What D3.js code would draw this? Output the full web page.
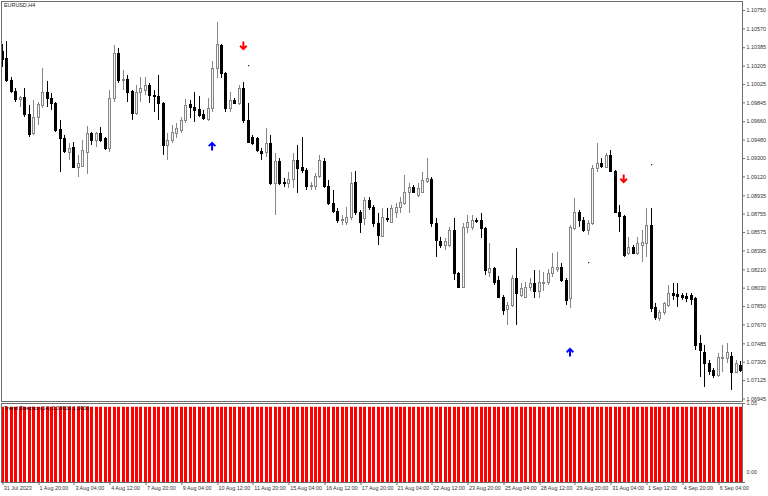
<!DOCTYPE html>
<html><head><meta charset="utf-8">
<script src="https://cdn.jsdelivr.net/npm/d3@7"></script>
<style>
html,body{margin:0;padding:0;background:#fff;}
svg{display:block;}
text{font-family:"Liberation Sans",Arial,sans-serif;}
</style></head><body>
<svg id="c" width="768" height="496"></svg>
<script>
const symbolTitle = "EURUSD,H4";
const indicatorTitle = "Trend Direction(14) 0.00000 1.0000";

const open = [
1.10348,1.10280,1.10064,1.09957,1.09878,1.09898,1.09731,1.09545,1.09702,1.09820,
1.09947,1.09888,1.09839,1.09584,1.09496,1.09359,1.09408,1.09212,1.09222,1.09359,
1.09545,1.09477,1.09545,1.09496,1.09398,1.09888,1.10329,1.10064,1.10074,1.09957,
1.09741,1.09947,1.09966,1.10015,1.09917,1.09908,1.09839,1.09428,1.09477,1.09545,
1.09575,1.09673,1.09829,1.09800,1.09780,1.09731,1.09682,1.09790,1.10182,1.10407,
1.10133,1.09790,1.09869,1.09839,1.09986,1.09673,1.09506,1.09496,1.09369,1.09359,
1.09447,1.09056,1.09271,1.09065,1.09056,1.09095,1.09281,1.09212,1.09183,1.09026,
1.09026,1.09124,1.09271,1.09026,1.08860,1.08781,1.08693,1.08674,1.08722,1.09065,
1.08771,1.08713,1.08889,1.08820,1.08664,1.08536,1.08713,1.08674,1.08771,1.08820,
1.08860,1.08967,1.09016,1.08938,1.08967,1.09075,1.09095,1.08664,1.08487,1.08448,
1.08448,1.08595,1.08174,1.08037,1.08625,1.08625,1.08693,1.08693,1.08615,1.08184,
1.08223,1.08105,1.07939,1.07821,1.07861,1.08125,1.07958,1.07939,1.08037,1.08076,
1.07997,1.08076,1.08086,1.08174,1.08213,1.08233,1.08105,1.07929,1.08615,1.08771,
1.08693,1.08595,1.08664,1.09202,1.09251,1.09212,1.09330,1.09173,1.08771,1.08732,
1.08370,1.08429,1.08370,1.08448,1.08468,1.08644,1.07841,1.07733,1.07792,1.07861,
1.07978,1.07968,1.07958,1.07949,1.07958,1.07929,1.07488,1.07399,1.07292,1.07224,
1.07175,1.07341,1.07341,1.07361,1.07204,1.07273];

const high = [
1.10417,1.10446,1.10094,1.09986,1.09908,1.09986,1.09820,1.09869,1.09849,1.10182,
1.10055,1.09937,1.09849,1.09673,1.09526,1.09447,1.09457,1.09330,1.09477,1.09614,
1.09555,1.09555,1.09604,1.09506,1.09966,1.10407,1.10378,1.10162,1.10113,1.09966,
1.10015,1.10094,1.10094,1.10035,1.09966,1.10113,1.09849,1.09545,1.09624,1.09643,
1.09702,1.09878,1.09869,1.09947,1.09908,1.09771,1.09888,1.10251,1.10633,1.10417,
1.10143,1.09947,1.09888,1.10015,1.10045,1.09839,1.09526,1.09506,1.09398,1.09594,
1.09526,1.09349,1.09300,1.09104,1.09163,1.09349,1.09428,1.09506,1.09202,1.09065,
1.09153,1.09330,1.09300,1.09085,1.08987,1.08811,1.08742,1.08820,1.09163,1.09173,
1.08791,1.08918,1.08918,1.08840,1.08762,1.08811,1.08811,1.08840,1.08860,1.08918,
1.09134,1.09056,1.09036,1.09056,1.09163,1.09300,1.09114,1.08713,1.08527,1.08517,
1.08625,1.08713,1.08184,1.08664,1.08742,1.08742,1.08713,1.08762,1.08625,1.08468,
1.08233,1.08145,1.07958,1.07890,1.08154,1.08419,1.08076,1.08086,1.08125,1.08203,
1.08203,1.08184,1.08213,1.08370,1.08380,1.08272,1.08125,1.08644,1.08909,1.08791,
1.08722,1.08693,1.09232,1.09447,1.09300,1.09349,1.09379,1.09183,1.08840,1.08742,
1.08527,1.08448,1.08527,1.08595,1.08811,1.08811,1.07880,1.07812,1.07890,1.08056,
1.08076,1.08076,1.07978,1.07978,1.07978,1.07939,1.07567,1.07469,1.07322,1.07243,
1.07390,1.07469,1.07488,1.07400,1.07322,1.07312];

const low = [
1.10192,1.10045,1.09937,1.09849,1.09800,1.09702,1.09506,1.09526,1.09624,1.09790,
1.09800,1.09771,1.09555,1.09163,1.09349,1.09281,1.09202,1.09114,1.09212,1.09144,
1.09428,1.09408,1.09457,1.09379,1.09359,1.09849,1.10035,1.09966,1.09849,1.09673,
1.09722,1.09849,1.09917,1.09839,1.09751,1.09673,1.09330,1.09281,1.09447,1.09496,
1.09545,1.09643,1.09692,1.09653,1.09702,1.09673,1.09663,1.09751,1.10084,1.10084,
1.09751,1.09751,1.09829,1.09820,1.09643,1.09447,1.09428,1.09359,1.09281,1.09310,
1.09036,1.08742,1.09036,1.09016,1.09007,1.09007,1.08958,1.09153,1.08987,1.08987,
1.08987,1.09104,1.09007,1.08840,1.08762,1.08664,1.08644,1.08644,1.08693,1.08742,
1.08566,1.08644,1.08791,1.08625,1.08448,1.08527,1.08674,1.08664,1.08713,1.08762,
1.08840,1.08762,1.08958,1.08918,1.08958,1.09056,1.08625,1.08331,1.08419,1.08399,
1.08429,1.08105,1.08027,1.08027,1.08566,1.08595,1.08664,1.08517,1.08154,1.08135,
1.08056,1.07929,1.07763,1.07665,1.07841,1.07665,1.07939,1.07929,1.07997,1.07928,
1.07928,1.07997,1.08056,1.08135,1.08184,1.08086,1.07861,1.07831,1.08595,1.08625,
1.08576,1.08546,1.08644,1.09163,1.09202,1.09202,1.09163,1.08762,1.08576,1.08331,
1.08350,1.08360,1.08350,1.08282,1.08331,1.07792,1.07714,1.07704,1.07763,1.07841,
1.07910,1.07841,1.07910,1.07890,1.07861,1.07420,1.07155,1.07057,1.07175,1.07145,
1.07155,1.07204,1.07292,1.07028,1.07194,1.07204];

const close = [
1.10270,1.10064,1.09957,1.09878,1.09898,1.09731,1.09535,1.09702,1.09829,1.09947,
1.09888,1.09839,1.09575,1.09496,1.09369,1.09398,1.09212,1.09251,1.09379,1.09545,
1.09477,1.09545,1.09477,1.09398,1.09888,1.10329,1.10064,1.10074,1.09947,1.09741,
1.09947,1.09986,1.10015,1.09917,1.09908,1.09839,1.09428,1.09477,1.09555,1.09594,
1.09673,1.09820,1.09800,1.09771,1.09722,1.09692,1.09790,1.10182,1.10417,1.10133,
1.09790,1.09869,1.09839,1.09986,1.09673,1.09457,1.09447,1.09379,1.09349,1.09447,
1.09056,1.09271,1.09056,1.09056,1.09095,1.09281,1.09202,1.09183,1.09026,1.09036,
1.09124,1.09281,1.09026,1.08860,1.08781,1.08693,1.08703,1.08722,1.09056,1.08771,
1.08674,1.08889,1.08820,1.08664,1.08546,1.08722,1.08703,1.08811,1.08820,1.08869,
1.08967,1.09016,1.08967,1.09007,1.09085,1.09104,1.08664,1.08497,1.08448,1.08487,
1.08595,1.08174,1.08037,1.08625,1.08674,1.08693,1.08683,1.08615,1.08203,1.08223,
1.08086,1.07939,1.07812,1.07861,1.08125,1.07978,1.08027,1.08037,1.08076,1.07997,
1.08086,1.08086,1.08174,1.08233,1.08233,1.08105,1.07910,1.08625,1.08771,1.08693,
1.08595,1.08664,1.09202,1.09251,1.09222,1.09330,1.09173,1.08771,1.08732,1.08350,
1.08429,1.08370,1.08468,1.08478,1.08644,1.07831,1.07743,1.07792,1.07880,1.07978,
1.07958,1.07949,1.07939,1.07929,1.07919,1.07469,1.07420,1.07292,1.07214,1.07175,
1.07351,1.07351,1.07400,1.07204,1.07292,1.07224];

const trendValues = [
1,1,1,1,1,1,1,1,1,1, 1,1,1,1,1,1,1,1,1,1, 1,1,1,1,1,1,1,1,1,1, 1,1,1,1,1,1,1,1,1,1,
1,1,1,1,1,1,1,1,1,1, 1,1,1,1,1,1,1,1,1,1, 1,1,1,1,1,1,1,1,1,1, 1,1,1,1,1,1,1,1,1,1,
1,1,1,1,1,1,1,1,1,1, 1,1,1,1,1,1,1,1,1,1, 1,1,1,1,1,1,1,1,1,1, 1,1,1,1,1,1,1,1,1,1,
1,1,1,1,1,1,1,1,1,1, 1,1,1,1,1,1,1,1,1,1, 1,1,1,1,1,1,1,1,1,1, 1,1,1,1,1,1,1,1,1,1,
1,1,1,1,1,1];

const priceTicks = [1.10750,1.10570,1.10385,1.10205,1.10025,1.09845,1.09660,1.09480,1.09300,1.09120,
1.08935,1.08755,1.08575,1.08395,1.08210,1.08030,1.07850,1.07670,1.07485,1.07305,1.07125,1.06945];
const indicatorTicks = [1.05, 0.00];

const dateLabels = ["31 Jul 2023","1 Aug 20:00","3 Aug 04:00","4 Aug 12:00","7 Aug 20:00","9 Aug 04:00",
"10 Aug 12:00","11 Aug 20:00","15 Aug 04:00","16 Aug 12:00","17 Aug 20:00","21 Aug 04:00","22 Aug 12:00",
"23 Aug 20:00","25 Aug 04:00","28 Aug 12:00","29 Aug 20:00","31 Aug 04:00","1 Sep 12:00","4 Sep 20:00","6 Sep 04:00"];
const dateLabelBars = [0,8,16,24,32,40,48,56,64,72,80,88,96,104,112,120,128,136,144,152,160];

const buyArrowBar = [47, 127];
const buyArrowPrice = [1.09418, 1.07400];
const sellArrowBar = [54, 139];
const sellArrowPrice = [1.10397, 1.09095];
const dotBar = [55, 131, 145];
const dotPrice = [1.10211, 1.08282, 1.09242];

// ---------- layout ----------
const svg = d3.select("#c");
const L = 1.5, R = 742.5, mainT = 1.5, mainB = 401.5, indT = 403.5, indB = 482.5;
const FS = 5.4;

const x = d3.scaleLinear().domain([0, open.length - 1]).range([1.8, 740]);
const y = d3.scaleLinear().domain([1.06920, 1.10838]).range([401, 1]);
const yi = d3.scaleLinear().domain([0, 1.05]).range([482, 403]);

const px = i => Math.round(x(i)) + 0.5;

const defs = svg.append("defs");
defs.append("clipPath").attr("id","mainClip").append("rect")
  .attr("x", L + 0.5).attr("y", mainT + 0.5).attr("width", R - L - 1).attr("height", mainB - mainT - 1);
defs.append("clipPath").attr("id","indClip").append("rect")
  .attr("x", L + 0.5).attr("y", indT + 0.5).attr("width", R - L - 1).attr("height", indB - indT - 1);

// indicator bars
const gi = svg.append("g").attr("clip-path","url(#indClip)");
gi.selectAll("rect").data(trendValues).join("rect")
  .attr("x", (d,i) => Math.round(x(i)) - 1)
  .attr("width", 3)
  .attr("y", d => yi(d))
  .attr("height", d => yi(0) - yi(d))
  .attr("fill", "#ff0000");

// candles
const candles = open.map((o,i) => ({i, o, h: high[i], l: low[i], c: close[i]}));
const gm = svg.append("g").attr("clip-path","url(#mainClip)");
const cg = gm.selectAll("g.cd").data(candles).join("g").attr("class","cd");
cg.append("line")
  .attr("x1", d => px(d.i)).attr("x2", d => px(d.i))
  .attr("y1", d => y(d.h)).attr("y2", d => y(d.l))
  .attr("stroke", d => d.c >= d.o ? "#858585" : "#000")
  .attr("stroke-width", 1);
cg.append("rect")
  .attr("x", d => px(d.i) - 1)
  .attr("width", 2)
  .attr("y", d => Math.round(y(Math.max(d.o, d.c))) + 0.5)
  .attr("height", d => Math.max(0.01, Math.round(y(Math.min(d.o, d.c))) - Math.round(y(Math.max(d.o, d.c)))))
  .attr("fill", d => d.c >= d.o ? "#f4f4f4" : "#000")
  .attr("stroke", d => d.c >= d.o ? "#858585" : "#000")
  .attr("stroke-width", 1);

// arrows
const upShape = "M0,-4.5L4,-0.5L2.6,0.9L1,-0.7L1,4.5L-1,4.5L-1,-0.7L-2.6,0.9L-4,-0.5Z";
const downShape = "M0,4.5L4,0.5L2.6,-0.9L1,0.7L1,-4.5L-1,-4.5L-1,0.7L-2.6,-0.9L-4,0.5Z";
gm.selectAll("path.buy").data(buyArrowBar).join("path").attr("class","buy")
  .attr("d", upShape)
  .attr("transform", (d,k) => `translate(${x(d)},${y(buyArrowPrice[k])})`)
  .attr("fill", "#0000ff");
gm.selectAll("path.sell").data(sellArrowBar).join("path").attr("class","sell")
  .attr("d", downShape)
  .attr("transform", (d,k) => `translate(${x(d)},${y(sellArrowPrice[k])})`)
  .attr("fill", "#ff0000");
gm.selectAll("rect.dot").data(dotBar).join("rect").attr("class","dot")
  .attr("x", d => Math.round(x(d)))
  .attr("y", (d,k) => Math.round(y(dotPrice[k])))
  .attr("width", 1.2).attr("height", 1.2)
  .attr("fill", "#222");

// frames
svg.append("rect").attr("x", L).attr("y", mainT).attr("width", R - L).attr("height", mainB - mainT)
  .attr("fill","none").attr("stroke","#6e6e6e").attr("stroke-width",1);
svg.append("rect").attr("x", L).attr("y", indT).attr("width", R - L).attr("height", indB - indT)
  .attr("fill","none").attr("stroke","#6e6e6e").attr("stroke-width",1);

// price axis
const ay = svg.append("g").attr("transform", `translate(${R},0)`)
  .call(d3.axisRight(y).tickValues(priceTicks).tickFormat(d3.format(".5f")).tickSize(2.5).tickPadding(1.5));
// indicator axis
const ai = svg.append("g").attr("transform", `translate(${R},0)`)
  .call(d3.axisRight(yi).tickValues(indicatorTicks).tickFormat(d3.format(".2f")).tickSize(2.5).tickPadding(1.5));
ai.selectAll(".tick").filter(d => d === 0).select("text").attr("dy", "-1.6em");
// date axis
const ax = svg.append("g").attr("transform", `translate(0,${indB})`)
  .call(d3.axisBottom(x).tickValues(dateLabelBars).tickFormat((d,k) => dateLabels[k]).tickSize(2.5).tickPadding(1.5));
ax.selectAll(".tick line").attr("transform", d => `translate(${px(d) - x(d)},0)`);
ax.selectAll(".tick text").attr("text-anchor","start").attr("x", 1.5);

[ay, ai, ax].forEach(g => {
  g.select(".domain").remove();
  g.selectAll(".tick line").attr("stroke","#6e6e6e");
  g.selectAll(".tick text").attr("fill","#333").attr("font-size", FS).attr("font-family",'"Liberation Sans",Arial,sans-serif');
});

// titles
svg.append("text").attr("x", 4).attr("y", 7.2).attr("font-size", FS).attr("fill","#222").text(symbolTitle);
svg.append("text").attr("x", 4).attr("y", 409.5).attr("font-size", FS).attr("fill","#000").text(indicatorTitle);
</script>
</body></html>
